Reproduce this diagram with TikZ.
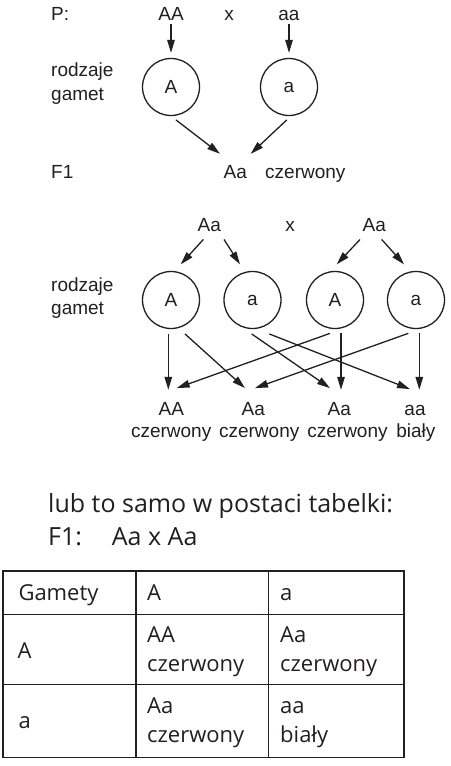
\documentclass[tikz,border=0pt]{standalone}
\usepackage{fontspec}
\setmainfont{Liberation Sans}
\newfontfamily\tabfont{Open Sans}
\usetikzlibrary{arrows.meta,calc}
\definecolor{ink}{RGB}{35,31,32}
\begin{document}
\begin{tikzpicture}[x=1pt,y=-1pt,
  lbl/.style={font=\fontsize{19}{23}\selectfont, text=ink, inner sep=0pt, text height=13pt, text depth=4pt, anchor=base},
  lblw/.style={lbl, anchor=base west},
  gam/.style={circle, draw=ink, line width=1.3pt, minimum size=57pt, inner sep=0pt, font=\fontsize{19}{23}\selectfont, text=ink},
  arr/.style={draw=ink, line width=1.3pt, -{Triangle[length=13pt,width=7.5pt]}},
  hd/.style={font=\tabfont\fontsize{25}{30}\selectfont, text=ink, inner sep=0pt, anchor=base west},
  tab/.style={font=\tabfont\fontsize{22}{29}\selectfont, text=ink, inner sep=0pt, anchor=base west},
  tabline/.style={draw=ink, line width=1.6pt}]
\fill[white] (0,0) rectangle (450,766);
\useasboundingbox (0,0) rectangle (450,766);
% ---------- section 1 ----------
\node[lblw] (P) at (51,20) {P:};
\node[lbl] (AA) at (171,20) {AA};
\node[lbl] (x1) at (229,20) {x};
\node[lbl] (aa) at (289,20) {aa};
\node[lblw] (rg1a) at (51,76.7) {rodzaje};
\node[lblw] (rg1b) at (51,100) {gamet};
\node[gam] (cA) at (171,87) {A};
\node[gam] (ca) at (289,87) {a};
\node[lblw] (F1) at (51,178.3) {F1};
\node[lbl] (F1Aa) at (235.3,178.3) {Aa};
\node[lblw] (F1cz) at (265,178.3) {czerwony};
\draw[arr, shorten >=5pt] (AA.south) -- (cA.north);
\draw[arr, shorten >=5pt] (aa.south) -- (ca.north);
\draw[arr] ($(cA.south)+(5,3.8)$) -- ($(F1Aa.north)+(-15.3,-11.3)$);
\draw[arr] ($(ca.south)+(-2.3,3.8)$) -- ($(F1Aa.north)+(15.4,-11.3)$);
% ---------- section 2 ----------
\node[lbl] (PL) at (209.2,231.7) {Aa};
\node[lbl] (x2) at (290,231.7) {x};
\node[lbl] (PR) at (374.2,231.7) {Aa};
\node[lblw] (rg2a) at (51,291.7) {rodzaje};
\node[lblw] (rg2b) at (51,314) {gamet};
\node[gam] (c1) at (171,300) {A};
\node[gam] (c2) at (252.5,300) {a};
\node[gam] (c3) at (335,300) {A};
\node[gam] (c4) at (416,300) {a};
\draw[arr] ($(PL.south)+(-5.9,3.6)$) -- ($(c1.north)+(9.7,-6.5)$);
\draw[arr] ($(PL.south)+(14.8,3.6)$) -- ($(c2.north)+(-12.5,-6.5)$);
\draw[arr] ($(PR.south)+(-14.2,3.6)$) -- ($(c3.north)+(1.7,-6.5)$);
\draw[arr] ($(PR.south)+(7.5,3.6)$) -- ($(c4.north)+(-12,-6.5)$);
\node[lbl] (G1) at (171.3,415) {AA};
\node[lbl] (G2) at (253.3,415) {Aa};
\node[lbl] (G3) at (339.2,415) {Aa};
\node[lbl] (G4) at (415,415) {aa};
\node[lbl] (C1) at (171.2,437) {czerwony};
\node[lbl] (C2) at (259.2,437) {czerwony};
\node[lbl] (C3) at (347.5,437) {czerwony};
\node[lbl] (C4) at (415.8,437) {biały};
\draw[arr] ($(c1.south)+(-2.7,4.5)$) -- ($(G1.north)+(-3,-12)$);
\draw[arr] ($(c1.south)+(14,4.8)$) -- ($(G2.north)+(-8.3,-13.7)$);
\draw[arr] ($(c2.south)+(-0.8,4.8)$) -- ($(G3.north)+(-9.2,-13.7)$);
\draw[arr] ($(c2.south)+(16.8,4.8)$) -- ($(G4.north)+(-5,-12.7)$);
\draw[arr] ($(c3.south)+(-5,4.2)$) -- ($(G1.north)+(5.4,-13.7)$);
\draw[arr] ($(c3.south)+(6,4.2)$) -- ($(G3.north)+(1.8,-12)$);
\draw[arr] ($(c4.south)+(-7.7,4.2)$) -- ($(G2.north)+(1.7,-13.7)$);
\draw[arr] ($(c4.south)+(3.3,4.2)$) -- ($(G4.north)+(4.3,-12)$);
% ---------- section 3 ----------
\node[hd] (h1) at (48,512.5) {lub to samo w postaci tabelki:};
\node[hd] (h2) at (48,545) {F1:};
\node[hd] (h3) at (111.7,545) {Aa x Aa};
\draw[tabline] (2.7,570.7) rectangle (404,757.3);
\draw[tabline] (2.7,614.3) -- (404,614.3);
\draw[tabline] (2.7,684.3) -- (404,684.3);
\draw[tabline] (136,570.7) -- (136,757.3);
\draw[tabline] (268.3,570.7) -- (268.3,757.3);
\node[tab] (t11) at (18.3,600) {Gamety};
\node[tab] (t12) at (147,600) {A};
\node[tab] (t13) at (280,600) {a};
\node[tab] (t21) at (17.5,658.3) {A};
\node[tab] (t22a) at (147,642.7) {AA};
\node[tab] (t22b) at (147,671.7) {czerwony};
\node[tab] (t23a) at (280,642.7) {Aa};
\node[tab] (t23b) at (280,671.7) {czerwony};
\node[tab] (t31) at (18.3,728.3) {a};
\node[tab] (t32a) at (147,713.3) {Aa};
\node[tab] (t32b) at (147,742.7) {czerwony};
\node[tab] (t33a) at (280,713.3) {aa};
\node[tab] (t33b) at (280,742.7) {biały};
\end{tikzpicture}
\end{document}
